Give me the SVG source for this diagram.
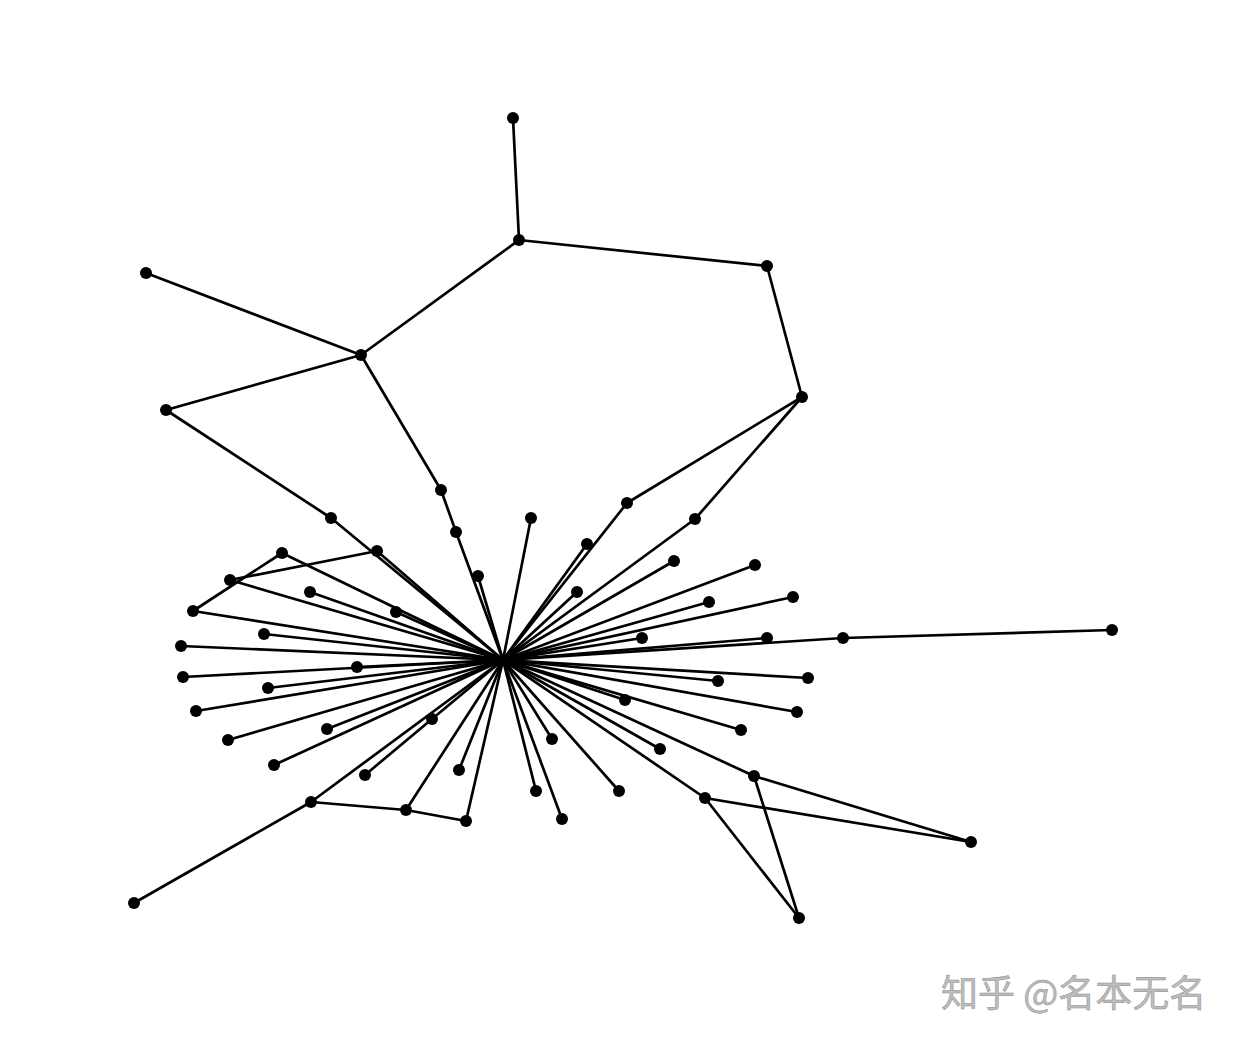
<svg xmlns="http://www.w3.org/2000/svg" width="1240" height="1044" viewBox="0 0 1240 1044">
<style>
.e{stroke:#000;stroke-width:2.7;fill:none}
.n{fill:#000}
.wm{font-family:"Noto Sans CJK SC","Liberation Sans",sans-serif;font-size:37px;fill:#bdbdbd;stroke:#8e8e8e;stroke-width:0.5}
</style>
<rect width="1240" height="1044" fill="#fff"/>
<g id="connectors" class="e">
<line x1="513" y1="118" x2="519" y2="240"/>
<line x1="519" y1="240" x2="767" y2="266"/>
<line x1="767" y1="266" x2="802" y2="397"/>
<line x1="519" y1="240" x2="361" y2="355"/>
<line x1="146" y1="273" x2="361" y2="355"/>
<line x1="166" y1="410" x2="361" y2="355"/>
<line x1="361" y1="355" x2="441" y2="490"/>
<line x1="441" y1="490" x2="456" y2="532"/>
<line x1="456" y1="532" x2="503" y2="660"/>
<line x1="478" y1="576" x2="503" y2="660"/>
<line x1="166" y1="410" x2="331" y2="518"/>
<line x1="331" y1="518" x2="503" y2="660"/>
<line x1="377" y1="551" x2="503" y2="660"/>
<line x1="230" y1="580" x2="377" y2="551"/>
<line x1="230" y1="580" x2="503" y2="660"/>
<line x1="193" y1="611" x2="282" y2="553"/>
<line x1="282" y1="553" x2="503" y2="660"/>
<line x1="193" y1="611" x2="503" y2="660"/>
<line x1="310" y1="592" x2="503" y2="660"/>
<line x1="396" y1="612" x2="503" y2="660"/>
<line x1="264" y1="634" x2="503" y2="660"/>
<line x1="181" y1="646" x2="503" y2="660"/>
<line x1="183" y1="677" x2="503" y2="660"/>
<line x1="357" y1="667" x2="503" y2="660"/>
<line x1="268" y1="688" x2="503" y2="660"/>
<line x1="196" y1="711" x2="503" y2="660"/>
<line x1="228" y1="740" x2="503" y2="660"/>
<line x1="327" y1="729" x2="503" y2="660"/>
<line x1="274" y1="765" x2="503" y2="660"/>
<line x1="365" y1="775" x2="432" y2="719"/>
<line x1="432" y1="719" x2="503" y2="660"/>
<line x1="134" y1="903" x2="311" y2="802"/>
<line x1="311" y1="802" x2="503" y2="660"/>
<line x1="311" y1="802" x2="406" y2="810"/>
<line x1="406" y1="810" x2="466" y2="821"/>
<line x1="406" y1="810" x2="503" y2="660"/>
<line x1="466" y1="821" x2="503" y2="660"/>
<line x1="459" y1="770" x2="503" y2="660"/>
<line x1="531" y1="518" x2="503" y2="660"/>
<line x1="802" y1="397" x2="627" y2="503"/>
<line x1="627" y1="503" x2="503" y2="660"/>
<line x1="587" y1="544" x2="503" y2="660"/>
<line x1="802" y1="397" x2="695" y2="519"/>
<line x1="695" y1="519" x2="503" y2="660"/>
<line x1="577" y1="592" x2="503" y2="660"/>
<line x1="674" y1="561" x2="503" y2="660"/>
<line x1="755" y1="565" x2="503" y2="660"/>
<line x1="709" y1="602" x2="503" y2="660"/>
<line x1="793" y1="597" x2="503" y2="660"/>
<line x1="642" y1="638" x2="503" y2="660"/>
<line x1="767" y1="638" x2="503" y2="660"/>
<line x1="843" y1="638" x2="503" y2="660"/>
<line x1="843" y1="638" x2="1112" y2="630"/>
<line x1="808" y1="678" x2="503" y2="660"/>
<line x1="718" y1="681" x2="503" y2="660"/>
<line x1="625" y1="700" x2="503" y2="660"/>
<line x1="741" y1="730" x2="503" y2="660"/>
<line x1="797" y1="712" x2="503" y2="660"/>
<line x1="552" y1="739" x2="503" y2="660"/>
<line x1="660" y1="749" x2="503" y2="660"/>
<line x1="754" y1="776" x2="503" y2="660"/>
<line x1="705" y1="798" x2="503" y2="660"/>
<line x1="754" y1="776" x2="971" y2="842"/>
<line x1="705" y1="798" x2="971" y2="842"/>
<line x1="754" y1="776" x2="799" y2="918"/>
<line x1="705" y1="798" x2="799" y2="918"/>
<line x1="536" y1="791" x2="503" y2="660"/>
<line x1="562" y1="819" x2="503" y2="660"/>
<line x1="619" y1="791" x2="503" y2="660"/>
</g>
<g id="nodes" class="n">
<g id="n0"><circle cx="503" cy="660" r="6"/></g>
<g id="n1"><circle cx="513" cy="118" r="6"/></g>
<g id="n2"><circle cx="519" cy="240" r="6"/></g>
<g id="n3"><circle cx="767" cy="266" r="6"/></g>
<g id="n4"><circle cx="802" cy="397" r="6"/></g>
<g id="n5"><circle cx="361" cy="355" r="6"/></g>
<g id="n6"><circle cx="146" cy="273" r="6"/></g>
<g id="n7"><circle cx="166" cy="410" r="6"/></g>
<g id="n8"><circle cx="441" cy="490" r="6"/></g>
<g id="n9"><circle cx="456" cy="532" r="6"/></g>
<g id="n10"><circle cx="478" cy="576" r="6"/></g>
<g id="n11"><circle cx="331" cy="518" r="6"/></g>
<g id="n12"><circle cx="377" cy="551" r="6"/></g>
<g id="n13"><circle cx="282" cy="553" r="6"/></g>
<g id="n14"><circle cx="230" cy="580" r="6"/></g>
<g id="n15"><circle cx="193" cy="611" r="6"/></g>
<g id="n16"><circle cx="310" cy="592" r="6"/></g>
<g id="n17"><circle cx="396" cy="612" r="6"/></g>
<g id="n18"><circle cx="264" cy="634" r="6"/></g>
<g id="n19"><circle cx="181" cy="646" r="6"/></g>
<g id="n20"><circle cx="183" cy="677" r="6"/></g>
<g id="n21"><circle cx="357" cy="667" r="6"/></g>
<g id="n22"><circle cx="268" cy="688" r="6"/></g>
<g id="n23"><circle cx="196" cy="711" r="6"/></g>
<g id="n24"><circle cx="228" cy="740" r="6"/></g>
<g id="n25"><circle cx="327" cy="729" r="6"/></g>
<g id="n26"><circle cx="274" cy="765" r="6"/></g>
<g id="n27"><circle cx="432" cy="719" r="6"/></g>
<g id="n28"><circle cx="365" cy="775" r="6"/></g>
<g id="n29"><circle cx="311" cy="802" r="6"/></g>
<g id="n30"><circle cx="134" cy="903" r="6"/></g>
<g id="n31"><circle cx="406" cy="810" r="6"/></g>
<g id="n32"><circle cx="466" cy="821" r="6"/></g>
<g id="n33"><circle cx="459" cy="770" r="6"/></g>
<g id="n34"><circle cx="531" cy="518" r="6"/></g>
<g id="n35"><circle cx="627" cy="503" r="6"/></g>
<g id="n36"><circle cx="587" cy="544" r="6"/></g>
<g id="n37"><circle cx="695" cy="519" r="6"/></g>
<g id="n38"><circle cx="577" cy="592" r="6"/></g>
<g id="n39"><circle cx="674" cy="561" r="6"/></g>
<g id="n40"><circle cx="755" cy="565" r="6"/></g>
<g id="n41"><circle cx="709" cy="602" r="6"/></g>
<g id="n42"><circle cx="793" cy="597" r="6"/></g>
<g id="n43"><circle cx="642" cy="638" r="6"/></g>
<g id="n44"><circle cx="767" cy="638" r="6"/></g>
<g id="n45"><circle cx="843" cy="638" r="6"/></g>
<g id="n46"><circle cx="1112" cy="630" r="6"/></g>
<g id="n47"><circle cx="808" cy="678" r="6"/></g>
<g id="n48"><circle cx="718" cy="681" r="6"/></g>
<g id="n49"><circle cx="625" cy="700" r="6"/></g>
<g id="n50"><circle cx="741" cy="730" r="6"/></g>
<g id="n51"><circle cx="797" cy="712" r="6"/></g>
<g id="n52"><circle cx="552" cy="739" r="6"/></g>
<g id="n53"><circle cx="660" cy="749" r="6"/></g>
<g id="n54"><circle cx="754" cy="776" r="6"/></g>
<g id="n55"><circle cx="705" cy="798" r="6"/></g>
<g id="n56"><circle cx="971" cy="842" r="6"/></g>
<g id="n57"><circle cx="799" cy="918" r="6"/></g>
<g id="n58"><circle cx="536" cy="791" r="6"/></g>
<g id="n59"><circle cx="562" cy="819" r="6"/></g>
<g id="n60"><circle cx="619" cy="791" r="6"/></g>
</g>
<text class="wm" x="941" y="1007">知乎 @名本无名</text>
</svg>
